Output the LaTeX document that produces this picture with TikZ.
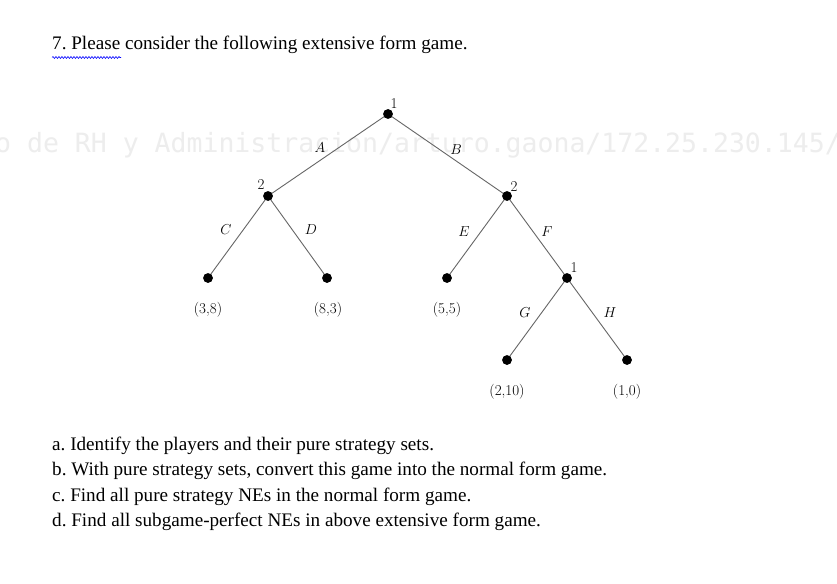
\documentclass[tikz,border=0pt]{standalone}
\usepackage{fontspec}
\usetikzlibrary{decorations.pathmorphing}
\newfontfamily\tnr{Liberation Serif}
\newfontfamily\wmfont{DejaVu Sans Mono}
\frenchspacing
\begin{document}
\begin{tikzpicture}[x=1pt,y=-1pt,
  dot/.style={circle, fill=black, inner sep=0pt, minimum size=9.5pt},
  edge/.style={draw=black!60, line width=0.9pt},
  lbl/.style={font=\fontsize{15}{17}\selectfont, inner sep=0pt},
  txt/.style={font=\tnr\fontsize{19.15}{22}\selectfont, anchor=base west, inner sep=0pt},
  wm/.style={font=\wmfont\fontsize{26.5}{30}\selectfont, text=black!7, anchor=base west, inner sep=0pt}]
\fill[white] (0,0) rectangle (837,583);
\useasboundingbox (0,0) rectangle (837,583);
% watermark
\node[wm] (wmark) at (-5,152) {o de RH y Administracion/arturo.gaona/172.25.230.145/};
% title
\node[txt] (title) at (52,50) {7. Please consider the following extensive form game.};
\coordinate (sq1) at (52,57.5);
\coordinate (sq2) at (121,57.5);
\draw[blue, line width=0.6pt, decorate, decoration={snake, amplitude=1pt, segment length=3pt}] (sq1) -- (sq2);
% tree nodes
\node[dot] (r) at (388,114) {};
\node[dot] (l2) at (268,196) {};
\node[dot] (r2) at (507,196) {};
\node[dot] (lc) at (208,278) {};
\node[dot] (ld) at (327,278) {};
\node[dot] (le) at (447,278) {};
\node[dot] (r1) at (567,278) {};
\node[dot] (lg) at (507,360) {};
\node[dot] (lh) at (627,360) {};
% edges
\draw[edge] (r.center) -- (l2.center);
\draw[edge] (r.center) -- (r2.center);
\draw[edge] (l2.center) -- (lc.center);
\draw[edge] (l2.center) -- (ld.center);
\draw[edge] (r2.center) -- (le.center);
\draw[edge] (r2.center) -- (r1.center);
\draw[edge] (r1.center) -- (lg.center);
\draw[edge] (r1.center) -- (lh.center);
% redraw dots on top
\foreach \n in {r,l2,r2,lc,ld,le,r1,lg,lh} \fill (\n.center) circle (4.75pt);
% player labels
\node[lbl] (p1) at (394,104) {1};
\node[lbl] (p2l) at (261,185) {2};
\node[lbl] (p2r) at (514,187) {2};
\node[lbl] (p1b) at (574,268) {1};
% action labels
\node[lbl] (la) at (320,148) {$A$};
\node[lbl] (lb) at (456,150) {$B$};
\node[lbl] (lcc) at (226,230) {$C$};
\node[lbl] (ldd) at (311,230) {$D$};
\node[lbl] (lee) at (464,232) {$E$};
\node[lbl] (lff) at (547,232) {$F$};
\node[lbl] (lgg) at (525,313) {$G$};
\node[lbl] (lhh) at (610,313) {$H$};
% payoffs
\node[lbl] (u1) at (208,310) {(3,8)};
\node[lbl] (u2) at (328,310) {(8,3)};
\node[lbl] (u3) at (447,310) {(5,5)};
\node[lbl] (u4) at (507,392) {(2,10)};
\node[lbl] (u5) at (627,392) {(1,0)};
% questions
\node[txt] (qa) at (52,450) {a. Identify the players and their pure strategy sets.};
\node[txt] (qb) at (52,475.5) {b. With pure strategy sets, convert this game into the normal form game.};
\node[txt] (qc) at (52,501) {c. Find all pure strategy NEs in the normal form game.};
\node[txt] (qd) at (52,526.5) {d. Find all subgame-perfect NEs in above extensive form game.};
\end{tikzpicture}
\end{document}
